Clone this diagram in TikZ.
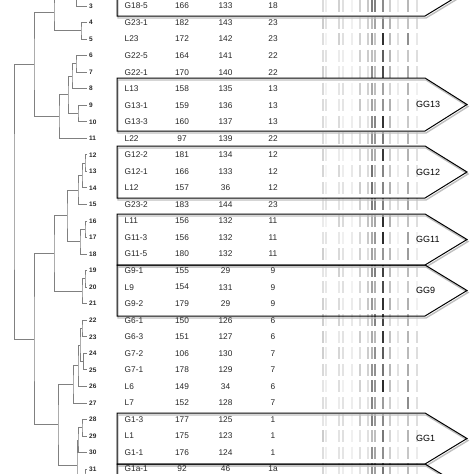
\documentclass[tikz,border=0pt]{standalone}
\usepackage{fontspec}
\setmainfont{Liberation Sans}
\usetikzlibrary{calc}

% one clade of the tree: name, x of the split, upper child, lower child
\newcommand{\clade}[4]{%
  \coordinate (#1m) at ($(#3)!0.5!(#4)$);
  \coordinate (#1) at (#1m -| #2,0);
  \draw[branch] (#3) -| (#1) |- (#4);
}

\begin{document}
\begin{tikzpicture}[
  x=1pt, y=-1pt,
  branch/.style={draw=black!50, line width=0.9pt},
  band/.style={line width=1.1pt},
  boxline/.style={draw=black, line width=1pt, line join=miter},
  boxshade/.style={draw=black!25, line width=1.4pt},
  rowno/.style={anchor=west, inner sep=0pt, text=black!85,
    font=\fontsize{6.5}{7}\selectfont\bfseries},
  strain/.style={anchor=west, inner sep=0pt, text=black!85,
    font=\fontsize{8.3}{9}\selectfont},
  val/.style={inner sep=0pt, text=black!85, font=\fontsize{8.3}{9}\selectfont},
  grp/.style={anchor=west, inner sep=0pt, font=\fontsize{9}{10}\selectfont},
]
\useasboundingbox (0,0) rectangle (474,474);
\clip (0,0) rectangle (474,474);

% leaf ends
\foreach \r in {1,...,33}
  \coordinate (l\r) at (87,{16.54*\r-43.62});

% gel lanes
\pgfmathsetseed{7}
\foreach \r in {1,...,33}{
  \foreach \bx/\bk in {323/22, 326/12, 339/20, 343/15, 352/10, 360/25,
                       368/25, 372/60, 375/55, 383/90, 390/35, 398/14,
                       408/50, 417/15}{
    \pgfmathtruncatemacro\bshade{min(100,\bk*(0.4+0.55*rnd))}
    \draw[band, black!\bshade] ($(l\r)+(\bx-87,-6)$) -- ++(0,12);
  }
}

% group arrows
\foreach \t/\b in {-35/16, 78/131, 146/198, 214/265, 265/316, 413/464, 464/515}{
  \draw[boxshade, shift={(1,2)}] (117,\t) -- (425,\t) -- (467,{(\t+\b)/2})
    -- (425,\b) -- (117,\b) -- cycle;
  \draw[boxline] (117,\t) -- (425,\t) -- (467,{(\t+\b)/2})
    -- (425,\b) -- (117,\b) -- cycle;
}
\node[grp] (gg13) at (416,104.5) {GG13};
\node[grp] (gg12) at (416,172) {GG12};
\node[grp] (gg11) at (416,239.5) {GG11};
\node[grp] (gg9) at (416,290.5) {GG9};
\node[grp] (gg1) at (416,438.5) {GG1};

% table
\foreach \r/\nm/\va/\vb/\vc in {
  3/G18-5/166/133/18, 4/G23-1/182/143/23, 5/L23/172/142/23,
  6/G22-5/164/141/22, 7/G22-1/170/140/22, 8/L13/158/135/13,
  9/G13-1/159/136/13, 10/G13-3/160/137/13, 11/L22/97/139/22,
  12/G12-2/181/134/12, 13/G12-1/166/133/12, 14/L12/157/36/12,
  15/G23-2/183/144/23, 16/L11/156/132/11, 17/G11-3/156/132/11,
  18/G11-5/180/132/11, 19/G9-1/155/29/9, 20/L9/154/131/9,
  21/G9-2/179/29/9, 22/G6-1/150/126/6, 23/G6-3/151/127/6,
  24/G7-2/106/130/7, 25/G7-1/178/129/7, 26/L6/149/34/6,
  27/L7/152/128/7, 28/G1-3/177/125/1, 29/L1/175/123/1,
  30/G1-1/176/124/1, 31/G1a-1/92/46/1a}{
  \node[rowno] (n\r) at ($(l\r)+(2,0)$) {\r};
  \node[strain] (s\r) at ($(l\r)+(37.5,0)$) {\nm};
  \node[val] (a\r) at ($(l\r)+(95,0)$) {\va};
  \node[val] (b\r) at ($(l\r)+(138.5,0)$) {\vb};
  \node[val] (c\r) at ($(l\r)+(186,0)$) {\vc};
}

% dendrogram
\clade{c12}{80}{l1}{l2}
\clade{c13}{76}{c12}{l3}
\clade{c45}{81}{l4}{l5}
\clade{c15}{54}{c13}{c45}
\clade{c67}{76}{l6}{l7}
\clade{c68}{72}{c67}{l8}
\clade{c910}{78}{l9}{l10}
\clade{c610}{68}{c68}{c910}
\clade{c611}{59}{c610}{l11}
\clade{c111}{34}{c15}{c611}
\clade{c1213}{85}{l12}{l13}
\clade{c1214}{82}{c1213}{l14}
\clade{c1215}{78}{c1214}{l15}
\clade{c1617}{85}{l16}{l17}
\clade{c1618}{80}{c1617}{l18}
\clade{c1218}{67}{c1215}{c1618}
\clade{c1920}{85}{l19}{l20}
\clade{c1921}{82}{c1920}{l21}
\clade{c1221}{54}{c1218}{c1921}
\clade{c2223}{82}{l22}{l23}
\clade{c2425}{83.5}{l24}{l25}
\clade{c2225}{80}{c2223}{c2425}
\clade{c2226}{78}{c2225}{l26}
\clade{c2227}{73}{c2226}{l27}
\clade{c2829}{82}{l28}{l29}
\clade{c2830}{78}{c2829}{l30}
\clade{c3132}{85}{l31}{l32}
\clade{c3133}{80}{c3132}{l33}
\clade{c2833}{77}{c2830}{c3133}
\clade{c2233}{58}{c2227}{c2833}
\clade{c1233}{34}{c1221}{c2233}
\clade{root}{14}{c111}{c1233}

\end{tikzpicture}
\end{document}
